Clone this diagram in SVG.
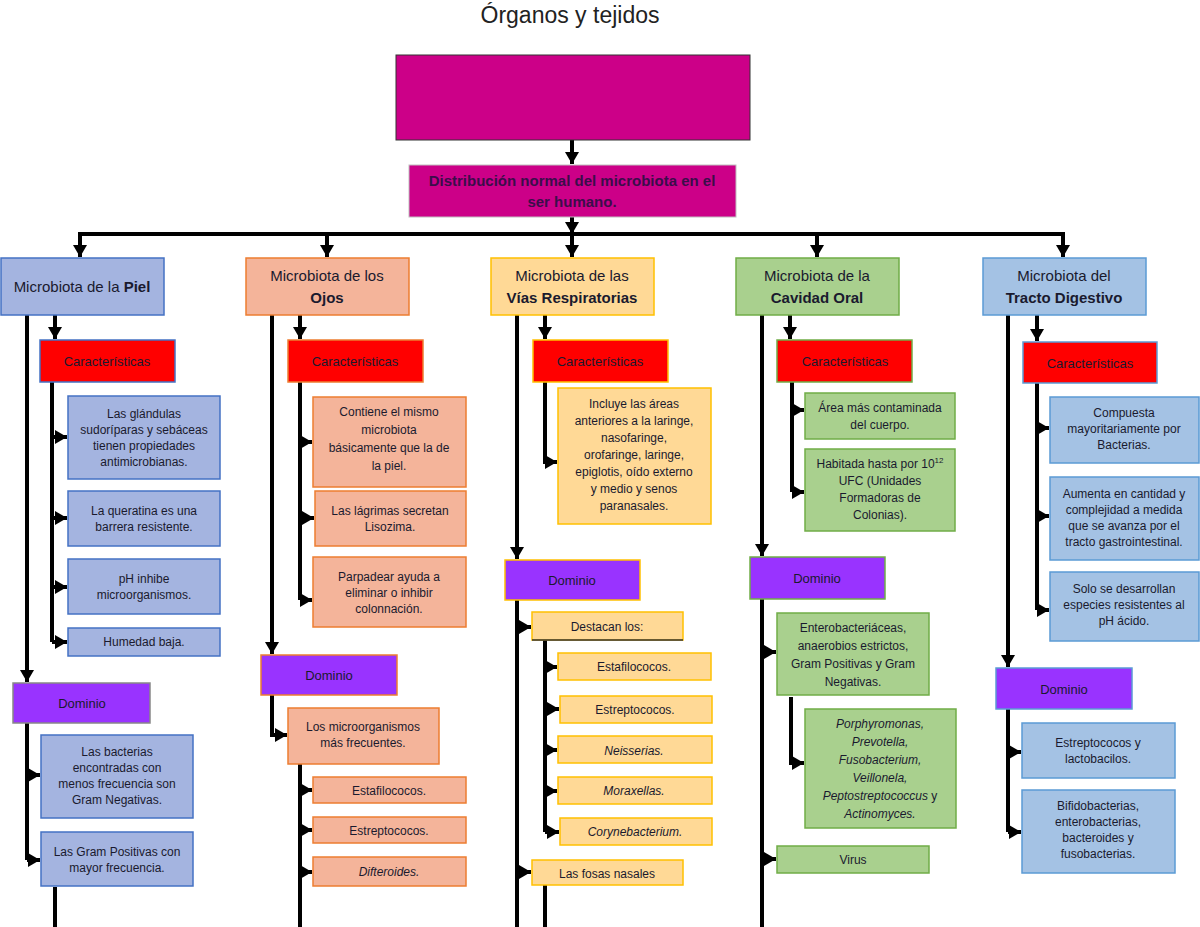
<svg xmlns="http://www.w3.org/2000/svg" width="1200" height="927" viewBox="0 0 1200 927">
<style>
text{font-family:"Liberation Sans",Arial,sans-serif;fill:#1a1a2e;text-anchor:middle}
.t{font-size:12px}
.h{font-size:15px}
.c{font-size:13px}
.i{font-style:italic}
.b{font-weight:bold}
.ln{stroke:#000;stroke-width:4;fill:none}
.k{stroke:#000;stroke-width:4;fill:none;marker-end:url(#a)}
.red{fill:#FF0000;stroke:#4472C4;stroke-width:1.5}
.dom{fill:#9933FF;stroke:#888;stroke-width:1.5}
.bl{fill:#A4B4E0;stroke:#4472C4;stroke-width:1.5}
.or{fill:#F4B49A;stroke:#ED7D31;stroke-width:1.5}
.ye{fill:#FFD996;stroke:#FFC000;stroke-width:1.5}
.gr{fill:#A9D08E;stroke:#70AD47;stroke-width:1.5}
.lb{fill:#A4C2E4;stroke:#5B9BD5;stroke-width:1.5}
</style>
<defs><marker id="a" markerUnits="userSpaceOnUse" markerWidth="14" markerHeight="14" refX="12" refY="7" orient="auto"><path d="M0,0 L12,7 L0,14 Z" fill="#000"/></marker></defs>
<rect width="1200" height="927" fill="#fff"/>
<text x="570" y="23" style="font-size:23px;fill:#222">Órganos y tejidos</text>

<g id="connectors">
<path class="k" d="M572,140 V164"/>
<path class="k" d="M572,217 V234"/>
<path class="ln" d="M78,234 H1065"/>
<path class="k" d="M80,234 V257"/><path class="k" d="M327,234 V257"/><path class="k" d="M572,234 V257"/><path class="k" d="M817,234 V257"/><path class="k" d="M1063,234 V257"/>
<!-- piel -->
<path class="k" d="M27,315 V682"/><path class="k" d="M55,315 V339"/>
<path class="ln" d="M52,382 V642"/>
<path class="k" d="M52,437 H67"/><path class="k" d="M52,518 H67"/><path class="k" d="M52,587 H67"/><path class="k" d="M52,642 H67"/>
<path class="ln" d="M27,723 V860"/><path class="k" d="M27,775 H40"/><path class="k" d="M27,860 H40"/>
<path class="ln" d="M55,887 V927"/>
<!-- ojos -->
<path class="k" d="M272,315 V654"/><path class="k" d="M300,315 V339"/>
<path class="ln" d="M300,382 V600"/>
<path class="k" d="M300,442 H312"/><path class="k" d="M300,518 H314"/><path class="k" d="M300,600 H312"/>
<path class="k" d="M272,695 V735 H287"/>
<path class="ln" d="M300,764 V927"/>
<path class="k" d="M300,790 H312"/><path class="k" d="M300,830 H312"/><path class="k" d="M300,872 H312"/>
<!-- vias -->
<path class="k" d="M517,315 V559"/><path class="k" d="M545,315 V339"/>
<path class="k" d="M545,382 V462 H557"/>
<path class="ln" d="M517,600 V927"/>
<path class="k" d="M517,627 H531"/><path class="k" d="M517,872 H531"/>
<path class="ln" d="M545,640 V832"/>
<path class="k" d="M545,667 H557"/><path class="k" d="M545,709 H559"/><path class="k" d="M545,750 H557"/><path class="k" d="M545,791 H557"/><path class="k" d="M545,832 H559"/>
<path class="ln" d="M545,885 V927"/>
<!-- oral -->
<path class="k" d="M762,315 V556"/><path class="k" d="M790,315 V339"/>
<path class="ln" d="M792,382 V492"/>
<path class="k" d="M792,410 H804"/><path class="k" d="M792,492 H804"/>
<path class="ln" d="M762,599 V927"/>
<path class="k" d="M762,652 H776"/><path class="k" d="M762,859 H776"/>
<path class="k" d="M791,697 V763 H804"/>
<!-- digestivo -->
<path class="k" d="M1008,315 V667"/><path class="k" d="M1037,315 V341"/>
<path class="ln" d="M1037,383 V610"/>
<path class="k" d="M1037,428 H1049"/><path class="k" d="M1037,516 H1049"/><path class="k" d="M1037,610 H1049"/>
<path class="ln" d="M1008,709 V832"/>
<path class="k" d="M1008,752 H1021"/><path class="k" d="M1008,832 H1021"/>
</g>

<g id="top"><rect x="396" y="55" width="354" height="85" fill="#CC0088" stroke="#333" stroke-width="1"/></g>
<g id="dist"><rect x="409" y="165" width="327" height="52" fill="#CC0088" stroke="#C0C0C0"/>
<text class="b" x="572" y="186" style="font-size:15px;fill:#3a0e4a">Distribución normal del microbiota en el</text>
<text class="b" x="572" y="207" style="font-size:15px;fill:#3a0e4a">ser humano.</text></g>

<!-- Piel -->
<g id="piel"><rect class="bl" x="1" y="258" width="163" height="57"/><text class="h" x="82" y="292">Microbiota de la <tspan class="b">Piel</tspan></text></g>
<g id="piel-car"><rect class="red" x="40" y="340" width="135" height="42"/><text class="c" x="107" y="366">Características</text></g>
<g id="piel-1"><rect class="bl" x="68" y="396" width="152" height="83"/><text class="t" x="144" y="418">Las glándulas<tspan x="144" dy="16">sudoríparas y sebáceas</tspan><tspan x="144" dy="16">tienen propiedades</tspan><tspan x="144" dy="16">antimicrobianas.</tspan></text></g>
<g id="piel-2"><rect class="bl" x="68" y="491" width="152" height="55"/><text class="t" x="144" y="515">La queratina es una<tspan x="144" dy="16">barrera resistente.</tspan></text></g>
<g id="piel-3"><rect class="bl" x="68" y="559" width="152" height="55"/><text class="t" x="144" y="583">pH inhibe<tspan x="144" dy="16">microorganismos.</tspan></text></g>
<g id="piel-4"><rect class="bl" x="68" y="628" width="152" height="28"/><text class="t" x="144" y="646">Humedad baja.</text></g>
<g id="piel-dom"><rect class="dom" x="13" y="683" width="137" height="40"/><text class="c" x="82" y="708">Dominio</text></g>
<g id="piel-d1"><rect class="bl" x="41" y="735" width="152" height="83"/><text class="t" x="117" y="756">Las bacterias<tspan x="117" dy="16">encontradas con</tspan><tspan x="117" dy="16">menos frecuencia son</tspan><tspan x="117" dy="16">Gram Negativas.</tspan></text></g>
<g id="piel-d2"><rect class="bl" x="41" y="832" width="152" height="54"/><text class="t" x="117" y="856">Las Gram Positivas con<tspan x="117" dy="16">mayor frecuencia.</tspan></text></g>

<!-- Ojos -->
<g id="ojos"><rect class="or" x="246" y="258" width="163" height="57"/><text class="h" x="327" y="281">Microbiota de los<tspan class="b" x="327" dy="22">Ojos</tspan></text></g>
<g id="ojos-car"><rect class="red" x="288" y="340" width="135" height="42" style="stroke:#ED7D31"/><text class="c" x="355" y="366">Características</text></g>
<g id="ojos-1"><rect class="or" x="313" y="397" width="153" height="90"/><text class="t" x="389" y="416">Contiene el mismo<tspan x="389" dy="18">microbiota</tspan><tspan x="389" dy="18">básicamente que la de</tspan><tspan x="389" dy="18">la piel.</tspan></text></g>
<g id="ojos-2"><rect class="or" x="315" y="491" width="151" height="55"/><text class="t" x="390" y="515">Las lágrimas secretan<tspan x="390" dy="16">Lisozima.</tspan></text></g>
<g id="ojos-3"><rect class="or" x="313" y="557" width="153" height="70"/><text class="t" x="389" y="581">Parpadear ayuda a<tspan x="389" dy="16">eliminar o inhibir</tspan><tspan x="389" dy="16">colonnación.</tspan></text></g>
<g id="ojos-dom"><rect class="dom" x="261" y="655" width="136" height="40" style="stroke:#ED7D31"/><text class="c" x="329" y="680">Dominio</text></g>
<g id="ojos-d1"><rect class="or" x="288" y="708" width="151" height="56"/><text class="t" x="363" y="731">Los microorganismos<tspan x="363" dy="16">más frecuentes.</tspan></text></g>
<g id="ojos-d2"><rect class="or" x="313" y="777" width="153" height="26"/><text class="t" x="389" y="795">Estafilococos.</text></g>
<g id="ojos-d3"><rect class="or" x="313" y="817" width="153" height="26"/><text class="t" x="389" y="835">Estreptococos.</text></g>
<g id="ojos-d4"><rect class="or" x="313" y="857" width="153" height="29"/><text class="t i" x="389" y="876">Difteroides.</text></g>

<!-- Vias -->
<g id="vias"><rect class="ye" x="491" y="258" width="163" height="57"/><text class="h" x="572" y="281">Microbiota de las<tspan class="b" x="572" dy="22">Vías Respiratorias</tspan></text></g>
<g id="vias-car"><rect class="red" x="533" y="340" width="135" height="42" style="stroke:#FFC000"/><text class="c" x="600" y="366">Características</text></g>
<g id="vias-1"><rect class="ye" x="558" y="388" width="153" height="136"/><text class="t" x="634" y="408">Incluye las áreas<tspan x="634" dy="17">anteriores a la laringe,</tspan><tspan x="634" dy="17">nasofaringe,</tspan><tspan x="634" dy="17">orofaringe, laringe,</tspan><tspan x="634" dy="17">epiglotis, oído externo</tspan><tspan x="634" dy="17">y medio y senos</tspan><tspan x="634" dy="17">paranasales.</tspan></text></g>
<g id="vias-dom"><rect class="dom" x="505" y="560" width="135" height="40" style="stroke:#FFC000"/><text class="c" x="572" y="585">Dominio</text></g>
<g id="vias-d1"><rect class="ye" x="532" y="612" width="151" height="28"/><path d="M532,640 H683" stroke="#333" stroke-width="1.5"/><text class="t" x="607" y="631">Destacan los:</text></g>
<g id="vias-d2"><rect class="ye" x="558" y="653" width="153" height="27"/><text class="t" x="634" y="671">Estafilococos.</text></g>
<g id="vias-d3"><rect class="ye" x="560" y="696" width="152" height="27"/><text class="t" x="635" y="714">Estreptococos.</text></g>
<g id="vias-d4"><rect class="ye" x="558" y="736" width="154" height="27"/><text class="t i" x="634" y="755">Neisserias.</text></g>
<g id="vias-d5"><rect class="ye" x="558" y="777" width="154" height="27"/><text class="t i" x="634" y="795">Moraxellas.</text></g>
<g id="vias-d6"><rect class="ye" x="560" y="818" width="152" height="27"/><text class="t i" x="635" y="836">Corynebacterium.</text></g>
<g id="vias-d7"><rect class="ye" x="532" y="860" width="151" height="25"/><text class="t" x="607" y="878">Las fosas nasales</text></g>

<!-- Oral -->
<g id="oral"><rect class="gr" x="736" y="258" width="163" height="57"/><text class="h" x="817" y="281">Microbiota de la<tspan class="b" x="817" dy="22">Cavidad Oral</tspan></text></g>
<g id="oral-car"><rect class="red" x="777" y="340" width="135" height="42" style="stroke:#70AD47"/><text class="c" x="845" y="366">Características</text></g>
<g id="oral-1"><rect class="gr" x="805" y="393" width="150" height="46"/><text class="t" x="880" y="412">Área más contaminada<tspan x="880" dy="17">del cuerpo.</tspan></text></g>
<g id="oral-2"><rect class="gr" x="805" y="449" width="150" height="82"/><text class="t" x="880" y="468">Habitada hasta por 10<tspan dy="-5" style="font-size:8px">12</tspan><tspan x="880" dy="22">UFC (Unidades</tspan><tspan x="880" dy="17">Formadoras de</tspan><tspan x="880" dy="17">Colonias).</tspan></text></g>
<g id="oral-dom"><rect class="dom" x="750" y="557" width="135" height="42" style="stroke:#70AD47"/><text class="c" x="817" y="583">Dominio</text></g>
<g id="oral-d1"><rect class="gr" x="777" y="613" width="152" height="82"/><text class="t" x="853" y="632">Enterobacteriáceas,<tspan x="853" dy="18">anaerobios estrictos,</tspan><tspan x="853" dy="18">Gram Positivas y Gram</tspan><tspan x="853" dy="18">Negativas.</tspan></text></g>
<g id="oral-d2"><rect class="gr" x="805" y="709" width="151" height="119"/><text class="t i" x="880" y="728">Porphyromonas,<tspan x="880" dy="18">Prevotella,</tspan><tspan x="880" dy="18">Fusobacterium,</tspan><tspan x="880" dy="18">Veillonela,</tspan><tspan x="880" dy="18">Peptostreptococcus <tspan style="font-style:normal">y</tspan></tspan><tspan x="880" dy="18">Actinomyces.</tspan></text></g>
<g id="oral-d3"><rect class="gr" x="777" y="846" width="152" height="27"/><text class="t" x="853" y="864">Virus</text></g>

<!-- Digestivo -->
<g id="dig"><rect class="lb" x="983" y="258" width="163" height="57"/><text class="h" x="1064" y="281">Microbiota del<tspan class="b" x="1064" dy="22">Tracto Digestivo</tspan></text></g>
<g id="dig-car"><rect class="red" x="1023" y="342" width="134" height="41" style="stroke:#5B9BD5"/><text class="c" x="1090" y="368">Características</text></g>
<g id="dig-1"><rect class="lb" x="1050" y="397" width="149" height="66"/><text class="t" x="1124" y="417">Compuesta<tspan x="1124" dy="16">mayoritariamente por</tspan><tspan x="1124" dy="16">Bacterias.</tspan></text></g>
<g id="dig-2"><rect class="lb" x="1050" y="477" width="149" height="83"/><text class="t" x="1124" y="498">Aumenta en cantidad y<tspan x="1124" dy="16">complejidad a medida</tspan><tspan x="1124" dy="16">que se avanza por el</tspan><tspan x="1124" dy="16">tracto gastrointestinal.</tspan></text></g>
<g id="dig-3"><rect class="lb" x="1050" y="572" width="149" height="69"/><text class="t" x="1124" y="593">Solo se desarrollan<tspan x="1124" dy="16">especies resistentes al</tspan><tspan x="1124" dy="16">pH ácido.</tspan></text></g>
<g id="dig-dom"><rect class="dom" x="996" y="668" width="136" height="41" style="stroke:#5B9BD5"/><text class="c" x="1064" y="694">Dominio</text></g>
<g id="dig-d1"><rect class="lb" x="1022" y="723" width="153" height="55"/><text class="t" x="1098" y="747">Estreptococos y<tspan x="1098" dy="16">lactobacilos.</tspan></text></g>
<g id="dig-d2"><rect class="lb" x="1022" y="790" width="153" height="83"/><text class="t" x="1098" y="810">Bifidobacterias,<tspan x="1098" dy="16">enterobacterias,</tspan><tspan x="1098" dy="16">bacteroides y</tspan><tspan x="1098" dy="16">fusobacterias.</tspan></text></g>
</svg>
